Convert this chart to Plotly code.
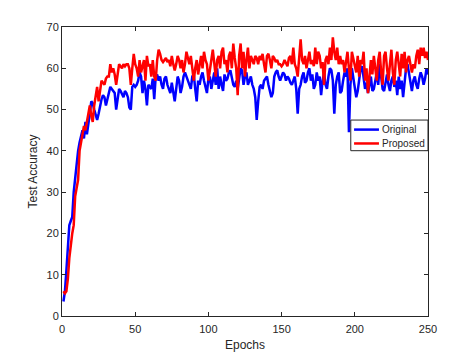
import plotly.graph_objects as go

epochs = list(range(1, 251))

original = [
    3.5, 6, 11, 16, 22, 23, 24, 30, 34, 37,
    40, 42, 43.5, 45, 43, 47, 44, 46, 49, 52,
    51.5, 50, 49, 47.5, 49, 51, 52.5, 53.5, 53, 51,
    52.5, 54, 55.5, 55, 54.5, 54, 50, 52.5, 55, 54.5,
    53.5, 53, 54.5, 54, 53, 50.5, 50, 55.5, 56, 55.5,
    56, 57, 59, 58, 54, 57, 55, 51, 56, 55.5,
    55, 57.5, 52.5, 58, 58.5, 57, 58, 56, 55, 57.5,
    58, 56, 55, 54, 56.5, 54.5, 52, 55, 58, 57,
    54, 55.5, 58, 59, 58, 57, 56.5, 55, 58, 58.5,
    55, 52, 57, 56, 58, 59, 57, 55, 54, 57.5,
    58, 55, 57, 59, 56, 60, 55, 58, 56, 54.5,
    58.5, 57, 57.5, 59, 59.5, 58, 56, 55.5, 57, 55,
    58, 60, 59.5, 56, 58, 59, 56, 57, 58, 56,
    55, 53, 47.5, 52, 55.5, 56, 55, 57, 57.5, 58,
    56, 54.5, 53, 54, 58, 59, 59.5, 58, 57, 58,
    59, 58.5, 57, 58, 57.5, 56.5, 56, 57, 58, 55,
    49, 55, 56, 58, 59, 56.5, 57, 59, 60, 57,
    58.5, 55, 56, 59, 57, 58, 53.5, 57, 59, 56,
    55, 58, 60, 59.5, 57, 49, 56, 58, 59, 54,
    54.5, 57, 59, 58, 60, 44.5, 56, 60, 58, 55,
    53, 54.5, 57, 60, 60.5, 58, 55, 56.5, 54, 56,
    58, 54.5, 55, 57, 59, 56, 61, 58, 55, 54.5,
    57, 58.5, 56, 54.5, 57, 58, 55.5, 57, 53.5, 58,
    55, 57, 53, 57.5, 60, 61, 59, 56, 54.5, 57,
    58, 56, 55, 57.5, 59, 58, 56, 57.5, 60, 58.5,
]

proposed = [
    6, 5.5, 6, 9, 14, 18, 20, 22, 29, 31,
    33, 40, 42, 44, 46, 45, 47, 50, 51, 48.5,
    47, 51, 53, 55.5, 52, 55, 57, 56.5, 56, 57.5,
    58, 58, 61, 59, 60, 58.5, 56, 58.5, 61, 60.5,
    60, 61, 60.5, 61, 61, 60, 56, 60, 63.5, 61,
    60, 58, 62, 59, 61, 62, 57, 63, 60.5, 61,
    58, 62, 58, 57, 62, 64.5, 63.5, 62, 61.5, 62,
    62.5, 61.5, 62, 60.5, 63, 61, 59.5, 61, 63, 62,
    60, 62, 59, 61, 64, 62.5, 61, 63, 59, 57,
    60, 62, 58.5, 61, 63, 60, 64, 62, 61, 57,
    59, 62, 64.5, 61, 58, 62, 63, 60, 64, 65,
    61, 62, 59, 63, 64, 60, 66, 62.5, 60, 53.5,
    63, 66, 60, 64, 58, 62, 65, 60, 63, 62,
    61, 63, 62.5, 61, 63, 62, 63.5, 61, 59, 63,
    63.5, 62, 60, 63, 62.5, 61.5, 62, 61, 61, 60.5,
    61, 62, 61, 60.5, 62.5, 63, 61, 65, 61, 60,
    58, 63, 67, 62, 61, 63, 60, 62, 64, 61,
    62, 60.5, 65, 61, 64, 63, 60, 61.5, 56, 62,
    63, 61, 65, 62, 67.5, 64, 62, 65, 61, 63,
    61, 62, 59, 61.5, 64, 60, 57, 64, 62, 61,
    59, 63, 58, 62, 61, 64, 57, 60, 54, 58,
    62, 58.5, 63, 60, 57, 62, 64, 59, 56, 63,
    64, 60, 57, 61, 64.5, 59, 56, 62, 64, 61,
    58, 63.5, 60, 64, 59, 62, 63, 61, 59, 61,
    60, 63, 64.5, 61, 65, 63, 65, 62.5, 64, 62,
]

series_names = ["Original", "Proposed"]
series_colors = ["#0000FF", "#FF0000"]
x_ticks = [0, 50, 100, 150, 200, 250]
y_ticks = [0, 10, 20, 30, 40, 50, 60, 70]

fig = go.Figure()
for name, vals, col in zip(series_names, [original, proposed], series_colors):
    fig.add_trace(go.Scatter(x=epochs, y=vals, mode="lines", name=name,
                             line=dict(color=col, width=2.5), showlegend=False))

axis_common = dict(showgrid=False, zeroline=False, showline=True, linecolor="#262626",
                   linewidth=1, mirror="ticks", ticks="inside", ticklen=4, automargin=False,
                   tickcolor="#262626", tickfont=dict(size=11, color="#262626"))

# MATLAB-style legend box drawn in paper coordinates
lx0, lx1, ly0, ly1 = 0.789, 1.0, 0.572, 0.678
shapes = [dict(type="rect", xref="paper", yref="paper", x0=lx0, x1=lx1, y0=ly0, y1=ly1,
               line=dict(color="#262626", width=1), fillcolor="white", layer="above")]
annotations = []
for i, (name, col) in enumerate(zip(series_names, series_colors)):
    yy = 0.645 - i * 0.048
    shapes.append(dict(type="line", xref="paper", yref="paper", x0=0.798, x1=0.866,
                       y0=yy, y1=yy, line=dict(color=col, width=2.5), layer="above"))
    annotations.append(dict(xref="paper", yref="paper", x=0.870, y=yy, text=name,
                            showarrow=False, xanchor="left", yanchor="middle",
                            font=dict(size=10, color="#262626")))

fig.update_layout(
    width=474, height=355,
    margin=dict(l=62, r=46, t=27, b=39),
    paper_bgcolor="white", plot_bgcolor="white",
    font=dict(family="Liberation Sans, Arial, sans-serif", color="#262626"),
    xaxis=dict(range=[0, 250], tickvals=x_ticks, ticklabelstandoff=3,
               title=dict(text="Epochs", font=dict(size=12), standoff=6), **axis_common),
    yaxis=dict(range=[0, 70], tickvals=y_ticks,
               title=dict(text="Test Accuracy", font=dict(size=12), standoff=6), **axis_common),
    shapes=shapes,
    annotations=annotations,
    showlegend=False,
)

fig.write_html("out.html", config={"displayModeBar": False},
               post_script="document.body.style.margin='0';document.body.style.padding='0';document.body.style.overflow='hidden';")
